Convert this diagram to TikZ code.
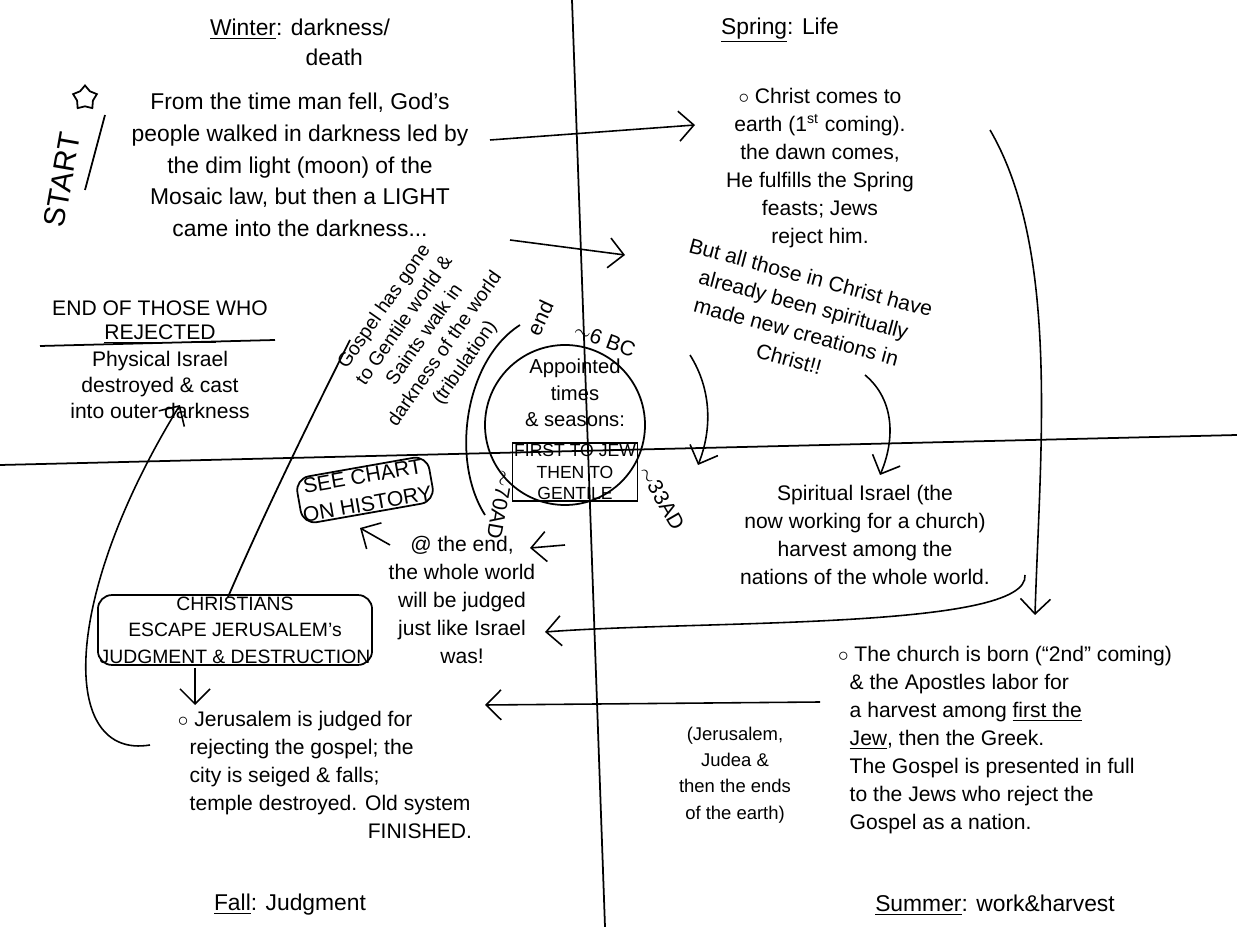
\documentclass[tikz,border=0pt]{standalone}
\usepackage{fontspec}
\setmainfont{Liberation Sans}
\usetikzlibrary{positioning}
\usetikzlibrary{shapes.geometric}
\usetikzlibrary{arrows.meta}
\tikzset{
  hand/.style={align=center, font=\fontsize{12}{16}\selectfont, inner sep=1pt},
  flow/.style={-{Straight Barb[length=3mm]}, line width=0.9pt},
  box/.style={draw, rounded corners=8pt, line width=1pt, inner xsep=6pt, inner ysep=3pt}
}
\begin{document}
\begin{tikzpicture}[x=0.2mm,y=-0.2mm, line width=1pt]
  \useasboundingbox (0,0) rectangle (1237,927);

  % axes
  \coordinate (vtop) at (572,0);
  \coordinate (vbot) at (605,927);
  \coordinate (hleft) at (0,465);
  \coordinate (hright) at (1237,435);
  \draw (vtop) -- (vbot);
  \draw (hleft) -- (hright);

  % seasons
  \node(winter)[hand, font=\fontsize{13}{17}\selectfont] at (300,42){\underline{Winter}: darkness/\\\hspace*{3em}death};
  \node(spring)[hand, font=\fontsize{13}{17}\selectfont] at (780,30){\underline{Spring}: Life};
  \node(fall)[hand, font=\fontsize{13}{17}\selectfont] at (290,905){\underline{Fall}: Judgment};
  \node(summer)[hand, font=\fontsize{13}{17}\selectfont] at (995,905){\underline{Summer}: work\&harvest};

  % start
  \node(start)[hand, rotate=80, font=\fontsize{17}{20}\selectfont] at (62,180){START};
  \draw (105,115) -- (85,190);
  \node(star)[star, draw, minimum size=5mm, inner sep=0pt] at (85,98){};

  \node(wintertext)[hand, font=\fontsize{13}{18}\selectfont] at (300,165){From the time man fell, God's\\people walked in darkness led by\\the dim light (moon) of the\\Mosaic law, but then a LIGHT\\came into the darkness...};
  \node(springtext)[hand] at (820,168){$\circ$ Christ comes to\\earth (1\textsuperscript{st} coming).\\the dawn comes,\\He fulfills the Spring\\feasts; Jews\\reject him.};
  \node(inchrist)[hand, rotate=-15] at (800,318){But all those in Christ have\\already been spiritually\\made new creations in\\Christ!!};
  \node(gospel)[hand, rotate=55, font=\fontsize{11}{14}\selectfont] at (425,335){Gospel has gone\\to Gentile world \&\\Saints walk in\\darkness of the world\\(tribulation)};

  \node(endof)[hand, font=\fontsize{12}{14}\selectfont] at (160,322){END OF THOSE WHO\\\underline{REJECTED}};
  \draw (40,346) -- (275,340);
  \node(physical)[hand, font=\fontsize{12}{15}\selectfont] at (160,385){Physical Israel\\destroyed \& cast\\into outer darkness};

  % centre
  \node(seasons)[circle, draw, minimum size=32mm] at (565,425){};
  \node(appointed)[hand, font=\fontsize{11.5}{15}\selectfont] at (575,393){Appointed\\times\\\& seasons:};
  \node(firstjew)[draw, hand, font=\fontsize{10}{12}\selectfont] at (575,472){FIRST TO JEW\\THEN TO\\GENTILE};
  \node(endlbl)[hand, rotate=65] at (540,318){end};
  \node(bc)[hand, rotate=-20] at (605,340){$\sim$6 BC};
  \node(ad33)[hand, rotate=-60] at (662,498){$\sim$33AD};
  \node(ad70)[hand, rotate=-100] at (500,505){$\sim$70AD};
  \draw (520,325) .. controls (465,360) and (450,460) .. (485,515);
  \draw[flow] (565,545) -- (530,548);
  \draw[flow] (690,355) .. controls (712,390) and (712,430) .. (698,465);

  \node(chart)[box, rotate=10, hand] at (365,490){SEE CHART\\ON HISTORY};
  \node(atend)[hand] at (462,600){@ the end,\\the whole world\\will be judged\\just like Israel\\was!};
  \node(spiritual)[hand] at (865,535){Spiritual Israel (the\\now working for a church)\\harvest among the\\nations of the whole world.};
  \node(escape)[box, hand, font=\fontsize{11}{15}\selectfont] at (235,630){CHRISTIANS\\ESCAPE JERUSALEM's\\JUDGMENT \& DESTRUCTION};
  \node(jerusalem)[hand, align=left] at (325,775){$\circ$ Jerusalem is judged for\\\ \ rejecting the gospel; the\\\ \ city is seiged \& falls;\\\ \ temple destroyed. Old system\\\hspace*{9em}FINISHED.};
  \node(church)[hand, align=left] at (1005,740){$\circ$ The church is born (``2nd'' coming)\\\ \ \& the Apostles labor for\\\ \ a harvest among \underline{first the}\\\ \ \underline{Jew}, then the Greek.\\\ \ The Gospel is presented in full\\\ \ to the Jews who reject the\\\ \ Gospel as a nation.};
  \node(ends)[hand, font=\fontsize{10.5}{15}\selectfont] at (735,775){(Jerusalem,\\Judea \&\\then the ends\\of the earth)};

  % connectors
  \draw[flow] (490,140) -- (695,125);
  \draw[flow] (990,130) .. controls (1060,250) and (1040,450) .. (1035,615);
  \draw[flow] (510,240) -- (625,255);
  \draw[flow] (865,375) .. controls (895,400) and (895,440) .. (880,475);
  \draw[flow] (1025,575) .. controls (1030,630) and (700,620) .. (545,632);
  \draw[flow] (820,702) -- (485,705);
  \draw[flow] (390,545) -- (360,528);
  \draw[flow] (195,668) -- (195,705);
  \draw (228,597) .. controls (270,500) and (320,400) .. (350,340);
  \draw[flow] (150,745) .. controls (60,760) and (60,600) .. (180,405);
\end{tikzpicture}
\end{document}
